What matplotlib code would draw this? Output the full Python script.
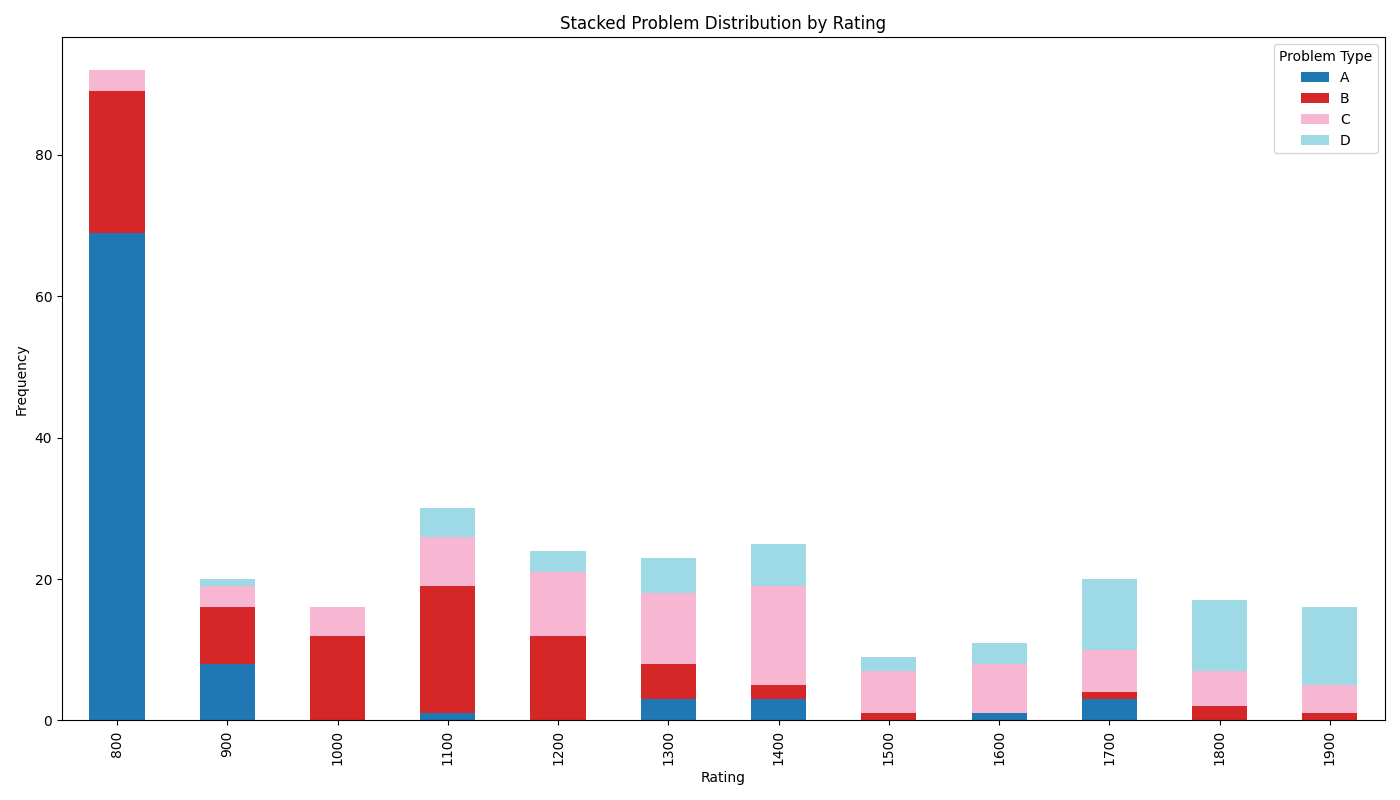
import matplotlib
matplotlib.use("Agg")
import matplotlib.pyplot as plt
import numpy as np

ratings = ["800", "900", "1000", "1100", "1200", "1300", "1400", "1500", "1600", "1700", "1800", "1900"]
series_names = ["A", "B", "C", "D"]
A = [69, 8, 0, 1, 0, 3, 3, 0, 1, 3, 0, 0]
B = [20, 8, 12, 18, 12, 5, 2, 1, 0, 1, 2, 1]
C = [3, 3, 4, 7, 9, 10, 14, 6, 7, 6, 5, 4]
D = [0, 1, 0, 4, 3, 5, 6, 2, 3, 10, 10, 11]
colors = ["#1f77b4", "#d62728", "#f7b6d2", "#9edae5"]

fig, ax = plt.subplots(figsize=(14, 8), dpi=100)
x = np.arange(len(ratings))
bottom = np.zeros(len(ratings))
for name, vals, col in zip(series_names, [A, B, C, D], colors):
    ax.bar(x, vals, width=0.5, bottom=bottom, color=col, label=name)
    bottom += np.array(vals)

ax.set_xticks(x)
ax.set_xticklabels(ratings, rotation=90)
ax.set_xlim(-0.5, len(ratings) - 0.5)
ax.set_ylim(0, bottom.max() * 1.05)
ax.set_xlabel("Rating")
ax.set_ylabel("Frequency")
ax.set_title("Stacked Problem Distribution by Rating")
ax.legend(title="Problem Type", loc="upper right")
fig.tight_layout()
fig.savefig("out.png")
